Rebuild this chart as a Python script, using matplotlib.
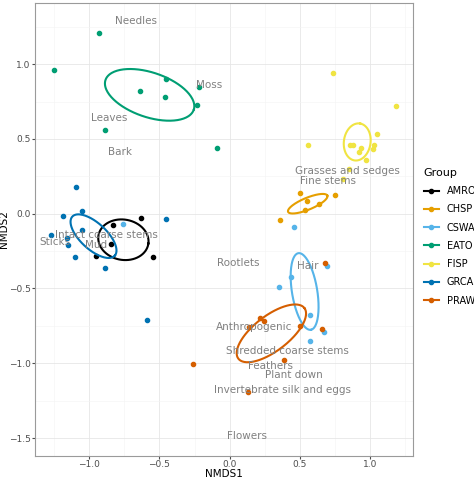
import matplotlib
matplotlib.use("Agg")
import matplotlib.pyplot as plt
from matplotlib.lines import Line2D
import numpy as np

groups = ["AMRO", "CHSP", "CSWA", "EATO", "FISP", "GRCA", "PRAW"]
colors = ["#000000", "#E69F00", "#56B4E9", "#009E73", "#F0E442", "#0072B2", "#D55E00"]

pts = {
    "AMRO": [(-0.633, -0.029), (-0.83, -0.073), (-0.845, -0.20), (-0.95, -0.285), (-0.545, -0.29)],
    "CHSP": [(0.50, 0.14), (0.755, 0.127), (0.555, 0.087), (0.64, 0.067), (0.536, 0.027), (0.36, -0.04)],
    "CSWA": [(0.46, -0.087), (0.44, -0.42), (0.35, -0.49), (0.695, -0.35), (0.576, -0.68),
             (0.676, -0.79), (0.57, -0.85), (-0.76, -0.07)],
    "EATO": [(-0.93, 1.21), (-1.25, 0.96), (-0.64, 0.82), (-0.45, 0.90), (-0.46, 0.78),
             (-0.22, 0.85), (-0.23, 0.73), (-0.89, 0.56), (-0.09, 0.44)],
    "FISP": [(0.74, 0.94), (1.19, 0.72), (1.05, 0.53), (0.56, 0.46), (0.86, 0.46), (0.88, 0.46),
             (0.94, 0.44), (0.92, 0.41), (1.02, 0.43), (1.03, 0.46), (0.97, 0.36), (0.85, 0.30), (0.81, 0.23)],
    "GRCA": [(-1.095, 0.18), (-1.186, -0.018), (-1.05, 0.02), (-1.27, -0.14), (-1.055, -0.107),
             (-1.16, -0.16), (-1.15, -0.21), (-1.10, -0.29), (-0.89, -0.36), (-0.45, -0.033), (-0.59, -0.71)],
    "PRAW": [(0.683, -0.33), (0.22, -0.70), (0.248, -0.72), (0.136, -0.76), (0.505, -0.75),
             (0.66, -0.77), (0.386, -0.98), (-0.26, -1.007), (0.13, -1.19)],
}

# ellipse: centre x, centre y, semi-major, semi-minor, angle (deg)
ell = {
    "AMRO": (-0.757, -0.174, 0.18, 0.135, -8),
    "CHSP": (0.557, 0.067, 0.15, 0.04, 21),
    "CSWA": (0.535, -0.52, 0.26, 0.09, -80),
    "EATO": (-0.57, 0.795, 0.33, 0.15, -17),
    "FISP": (0.91, 0.48, 0.125, 0.095, 80),
    "GRCA": (-0.97, -0.15, 0.2, 0.09, -40),
    "PRAW": (0.298, -0.80, 0.29, 0.12, 35),
}

labels = ["Needles", "Moss", "Leaves", "Bark", "Grasses and sedges", "Fine stems",
          "Intact coarse stems", "Sticks", "Mud", "Rootlets", "Hair", "Anthropogenic",
          "Shredded coarse stems", "Feathers", "Plant down", "Invertebrate silk and eggs", "Flowers"]
lab_x = [-0.665, -0.143, -0.86, -0.78, 0.838, 0.70, -0.876, -1.243, -0.95, 0.062, 0.557, 0.176,
         0.414, 0.29, 0.457, 0.376, 0.126]
lab_y = [1.29, 0.86, 0.64, 0.41, 0.283, 0.216, -0.143, -0.19, -0.21, -0.33, -0.35, -0.76,
         -0.915, -1.018, -1.078, -1.18, -1.486]

fig = plt.figure(figsize=(4.74, 4.82), dpi=100)
ax = fig.add_axes([0.073, 0.054, 0.799, 0.94])
ax.set_xlim(-1.39, 1.31); ax.set_ylim(-1.62, 1.41)
ax.set_xticks([-1.0, -0.5, 0.0, 0.5, 1.0]); ax.set_yticks([-1.5, -1.0, -0.5, 0.0, 0.5, 1.0])
ax.set_xticks(np.arange(-1.25, 1.3, 0.5), minor=True); ax.set_yticks(np.arange(-1.25, 1.3, 0.5), minor=True)
ax.grid(which="major", color="#e6e6e6", lw=0.6); ax.grid(which="minor", color="#f3f3f3", lw=0.4)
ax.set_axisbelow(True)
ax.tick_params(which="both", length=2, pad=1, labelsize=6.5, colors="#4d4d4d")
ax.tick_params(which="minor", length=0)
for s in ax.spines.values(): s.set_color("#9a9a9a"); s.set_linewidth(0.8)
ax.set_xlabel("NMDS1", fontsize=7.5, labelpad=0); ax.set_ylabel("NMDS2", fontsize=7.5, labelpad=0)

t = np.linspace(0, 2 * np.pi, 200)
for g, c in zip(groups, colors):
    p = np.array(pts[g])
    ax.scatter(p[:, 0], p[:, 1], s=9, color=c, zorder=3)
    cx, cy, a, b, th = ell[g]
    th = np.radians(th)
    ex = cx + a * np.cos(t) * np.cos(th) - b * np.sin(t) * np.sin(th)
    ey = cy + a * np.cos(t) * np.sin(th) + b * np.sin(t) * np.cos(th)
    ax.plot(ex, ey, color=c, lw=1.5, zorder=3)

for s, x, y in zip(labels, lab_x, lab_y):
    ax.text(x, y, s, ha="center", va="center", fontsize=7.5, color="#808080", zorder=4)

handles = [Line2D([], [], color=c, lw=1.5, marker="o", ms=3) for c in colors]
fig.legend(handles, groups, loc="upper left", bbox_to_anchor=(0.875, 0.67), frameon=False,
           title="Group", fontsize=7, title_fontsize=8, handlelength=1.6, labelspacing=0.85,
           alignment="left")
fig.savefig("out.png", dpi=100)
